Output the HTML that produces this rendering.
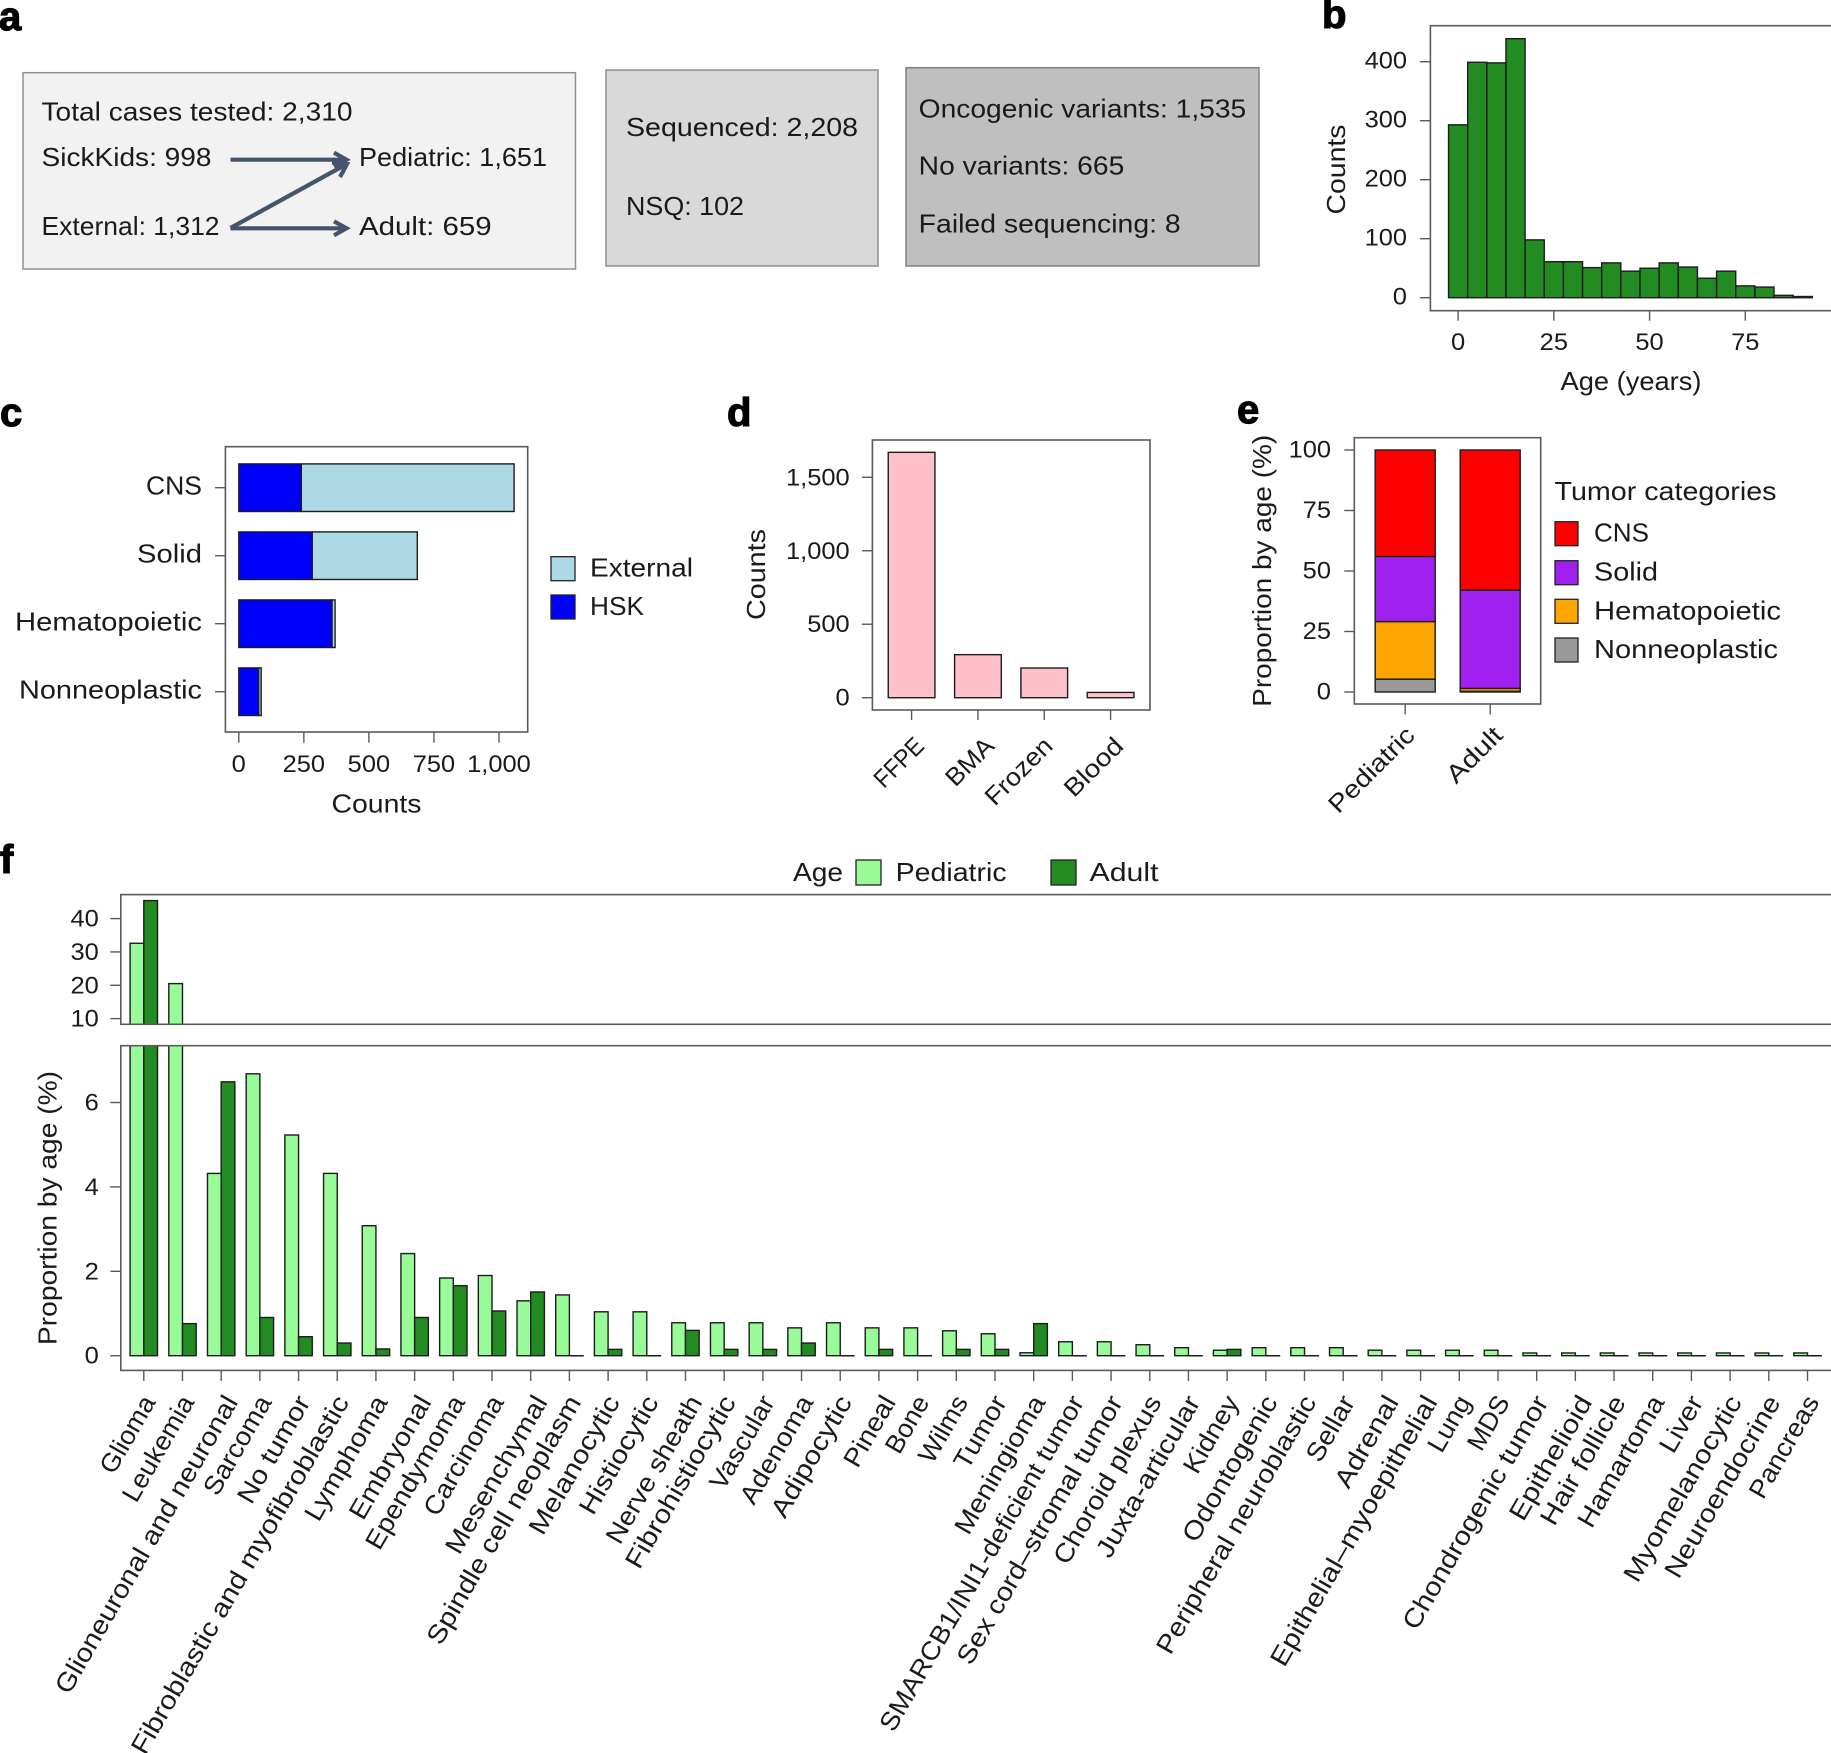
<!DOCTYPE html>
<html lang="en">
<head>
<meta charset="utf-8">
<title>Tumor cohort overview figure</title>
<style>
html,body{margin:0;padding:0;background:#fff;}
svg{display:block;}
text{font-family:"Liberation Sans",sans-serif;fill:#1a1a1a;}
.t{font-size:26px;}
.k{font-size:24px;}
.c{font-size:26px;}
.r{font-size:25px;}
.p{font-size:40px;font-weight:bold;fill:#000;stroke:#000;stroke-width:1.2px;}
.frame{fill:none;stroke:#5a5a5a;stroke-width:1.6;}
.arrow{fill:none;stroke:#44546a;stroke-width:4.2;}
</style>
</head>
<body>
<svg id="fig" xmlns="http://www.w3.org/2000/svg" width="1831" height="1753" viewBox="0 0 1831 1753">
  <rect x="0" y="0" width="1831" height="1753" fill="#fff"/>
  <defs>
    <clipPath id="clip-upper"><rect x="120.8" y="894.6" width="1710" height="129.7"/></clipPath>
    <clipPath id="clip-lower"><rect x="120.8" y="1045.7" width="1710" height="324.7"/></clipPath>
  </defs>

  <!-- panel letters -->
  <text class="p" x="-1" y="30">a</text>
  <text class="p" x="1322" y="28">b</text>
  <text class="p" x="0" y="426">c</text>
  <text class="p" x="727" y="426">d</text>
  <text class="p" x="1237" y="423">e</text>
  <text class="p" x="0" y="873">f</text>

  <!-- panel a -->
  <g>
    <rect x="23" y="72.7" width="552.5" height="196.3" fill="#f2f2f2" stroke="#8f8f8f" stroke-width="1.5"/>
    <rect x="606" y="70" width="272" height="196" fill="#d9d9d9" stroke="#8f8f8f" stroke-width="1.5"/>
    <rect x="906" y="67.7" width="353" height="198.3" fill="#bfbfbf" stroke="#808080" stroke-width="1.5"/>
    <text class="t" x="41.5" y="120.5" textLength="311" lengthAdjust="spacingAndGlyphs">Total cases tested: 2,310</text>
    <text class="t" x="41.5" y="166.2" textLength="170" lengthAdjust="spacingAndGlyphs">SickKids: 998</text>
    <text class="t" x="359" y="166.2" textLength="188" lengthAdjust="spacingAndGlyphs">Pediatric: 1,651</text>
    <text class="t" x="41.5" y="235" textLength="178" lengthAdjust="spacingAndGlyphs">External: 1,312</text>
    <text class="t" x="359" y="235" textLength="132.7" lengthAdjust="spacingAndGlyphs">Adult: 659</text>
    <text class="t" x="626" y="136" textLength="232" lengthAdjust="spacingAndGlyphs">Sequenced: 2,208</text>
    <text class="t" x="626" y="215" textLength="118" lengthAdjust="spacingAndGlyphs">NSQ: 102</text>
    <text class="t" x="918.7" y="117.3" textLength="327.5" lengthAdjust="spacingAndGlyphs">Oncogenic variants: 1,535</text>
    <text class="t" x="918.7" y="174.3" textLength="205.6" lengthAdjust="spacingAndGlyphs">No variants: 665</text>
    <text class="t" x="918.7" y="232.3" textLength="262" lengthAdjust="spacingAndGlyphs">Failed sequencing: 8</text>
    <path class="arrow" d="M230.5 159.7H345M334 152.7l12.5 7-12.5 7"/>
    <path class="arrow" d="M230.5 228.3H345M334 221.3l12.5 7-12.5 7"/>
    <path class="arrow" d="M230.5 228L345 165M332 162.5l15 1.5-7 13"/>
  </g>

  <!-- static axis titles and legends -->
  <text class="t" text-anchor="middle" transform="translate(1345 169.5) rotate(-90)" textLength="90" lengthAdjust="spacingAndGlyphs">Counts</text>
  <text class="t" text-anchor="middle" x="1631" y="390" textLength="141" lengthAdjust="spacingAndGlyphs">Age (years)</text>
  <text class="t" text-anchor="middle" x="376.5" y="812.7" textLength="90" lengthAdjust="spacingAndGlyphs">Counts</text>
  <rect x="551" y="556.7" width="24" height="24" fill="#add8e6" stroke="#222" stroke-width="1.3"/>
  <text class="t" x="590" y="576.7" textLength="103" lengthAdjust="spacingAndGlyphs">External</text>
  <rect x="551" y="595" width="24" height="24" fill="#0000ff" stroke="#222" stroke-width="1.3"/>
  <text class="t" x="590" y="615" textLength="54" lengthAdjust="spacingAndGlyphs">HSK</text>
  <text class="t" text-anchor="middle" transform="translate(765 574.5) rotate(-90)" textLength="91" lengthAdjust="spacingAndGlyphs">Counts</text>
  <text class="t" text-anchor="middle" transform="translate(1271 570.8) rotate(-90)" textLength="272" lengthAdjust="spacingAndGlyphs">Proportion by age (%)</text>
  <text class="t" x="1554.5" y="500" textLength="222" lengthAdjust="spacingAndGlyphs">Tumor categories</text>
  <rect x="1555" y="521.7" width="23" height="24" fill="#ff0000" stroke="#222" stroke-width="1.3"/>
  <text class="t" x="1594" y="541.7" textLength="55" lengthAdjust="spacingAndGlyphs">CNS</text>
  <rect x="1555" y="560.7" width="23" height="24" fill="#a020f0" stroke="#222" stroke-width="1.3"/>
  <text class="t" x="1594" y="580.5" textLength="64" lengthAdjust="spacingAndGlyphs">Solid</text>
  <rect x="1555" y="599.3" width="23" height="24" fill="#ffa500" stroke="#222" stroke-width="1.3"/>
  <text class="t" x="1594" y="619.5" textLength="187" lengthAdjust="spacingAndGlyphs">Hematopoietic</text>
  <rect x="1555" y="638" width="23" height="24" fill="#999999" stroke="#222" stroke-width="1.3"/>
  <text class="t" x="1594" y="658" textLength="184" lengthAdjust="spacingAndGlyphs">Nonneoplastic</text>
  <text class="t" x="793" y="881" textLength="50" lengthAdjust="spacingAndGlyphs">Age</text>
  <rect x="856" y="860" width="25" height="25" fill="#98fb98" stroke="#222" stroke-width="1.3"/>
  <text class="t" x="895.6" y="881" textLength="111" lengthAdjust="spacingAndGlyphs">Pediatric</text>
  <rect x="1051" y="860" width="25" height="25" fill="#228b22" stroke="#222" stroke-width="1.3"/>
  <text class="t" x="1089.5" y="881" textLength="69" lengthAdjust="spacingAndGlyphs">Adult</text>
  <text class="t" text-anchor="middle" transform="translate(56.5 1208) rotate(-90)" textLength="274" lengthAdjust="spacingAndGlyphs">Proportion by age (%)</text>

  <g id="charts"></g>
</svg>

<script>
// Panel b
const ageBinEdges = [-2.5,2.5,7.5,12.5,17.5,22.5,27.5,32.5,37.5,42.5,47.5,52.5,57.5,62.5,67.5,72.5,77.5,82.5,87.5,92.5];
const ageCounts = [293,399,398,439,98,61,61,51,59,45,50,59,52,33,45,20,18,4,2];
const ageXTicks = [0,25,50,75];
const ageYTicks = [0,100,200,300,400];

// Panel c
const sourceCategories = ["CNS","Solid","Hematopoietic","Nonneoplastic"];
const sourceHsk = [240,282,358,76];
const sourceExternal = [818,404,12,10];
const sourceXTicks = [0,250,500,750,1000];
const sourceXLabels = ["0","250","500","750","1,000"];

// Panel d
const sampleTypes = ["FFPE","BMA","Frozen","Blood"];
const sampleCounts = [1670,293,202,36];
const sampleYTicks = [0,500,1000,1500];
const sampleYLabels = ["0","500","1,000","1,500"];

// Panel e
const ageGroups = ["Pediatric","Adult"];
const propNonneoplastic = [5.3,0.3];
const propHematopoietic = [23.8,1.2];
const propSolid = [26.9,40.6];
const propCns = [44.0,57.9];
const propYTicks = [0,25,50,75,100];

// Panel f
const tumorTypes = ["Glioma","Leukemia","Glioneuronal and neuronal","Sarcoma","No tumor","Fibroblastic and myofibroblastic","Lymphoma","Embryonal","Ependymoma","Carcinoma","Mesenchymal","Spindle cell neoplasm","Melanocytic","Histiocytic","Nerve sheath","Fibrohistiocytic","Vascular","Adenoma","Adipocytic","Pineal","Bone","Wilms","Tumor","Meningioma","SMARCB1/INI1-deficient tumor","Sex cord–stromal tumor","Choroid plexus","Juxta-articular","Kidney","Odontogenic","Peripheral neuroblastic","Sellar","Adrenal","Epithelial–myoepithelial","Lung","MDS","Chondrogenic tumor","Epithelioid","Hair follicle","Hamartoma","Liver","Myomelanocytic","Neuroendocrine","Pancreas"];
const pediatricProp = [32.6,20.5,4.32,6.68,5.23,4.32,3.08,2.42,1.84,1.90,1.30,1.44,1.04,1.04,0.78,0.78,0.78,0.66,0.78,0.66,0.66,0.59,0.52,0.07,0.33,0.33,0.26,0.19,0.13,0.19,0.19,0.19,0.13,0.13,0.13,0.13,0.065,0.065,0.065,0.065,0.065,0.065,0.065,0.065];
const adultProp = [45.4,0.76,6.49,0.905,0.45,0.30,0.16,0.905,1.66,1.06,1.51,0,0.15,0,0.60,0.15,0.15,0.30,0,0.15,0,0.15,0.15,0.76,0,0,0,0,0.15,0,0,0,0,0,0,0,0,0,0,0,0,0,0,0];
const upperYTicks = [10,20,30,40];
const lowerYTicks = [0,2,4,6];

/* Typesetting table: rendered width of each label, so Liberation Sans fills the reference's wider face */
const labelFit = {
  "CNS":56,"Solid":65,"Hematopoietic":187,"Nonneoplastic":183,
  "FFPE":59,"BMA":57,"Frozen":84,"Blood":72,"Pediatric":110,"Adult":68,
  "Glioma":85,"Leukemia":117.6,"Glioneuronal and neuronal":339,"Sarcoma":110,"No tumor":119.5,
  "Fibroblastic and myofibroblastic":409,"Lymphoma":139.6,"Embryonal":138,"Ependymoma":172.6,"Carcinoma":133.8,
  "Mesenchymal":177.7,"Spindle cell neoplasm":282.3,"Melanocytic":155.4,"Histiocytic":132.2,"Nerve sheath":166,
  "Fibrohistiocytic":194.6,"Vascular":103.4,"Adenoma":120.3,"Adipocytic":135.7,"Pineal":77.6,"Bone":61.8,
  "Wilms":72.6,"Tumor":79.5,"Meningioma":155,"SMARCB1/INI1-deficient tumor":382.5,"Sex cord–stromal tumor":305.4,
  "Choroid plexus":189.6,"Juxta-articular":182,"Kidney":84.9,"Odontogenic":164,"Peripheral neuroblastic":293.2,
  "Sellar":71.4,"Adrenal":101.5,"Epithelial–myoepithelial":307.4,"Lung":60.3,"MDS":58.3,"Chondrogenic tumor":265,
  "Epithelioid":139.2,"Hair follicle":144.6,"Hamartoma":147.2,"Liver":61,"Myomelanocytic":210,"Neuroendocrine":205.4,"Pancreas":113.7
};

const NS = "http://www.w3.org/2000/svg";
const root = document.getElementById("charts");

function linear(d0, d1, r0, r1) {
  return function (v) { return r0 + (v - d0) * (r1 - r0) / (d1 - d0); };
}
function rect(parent, name, x, y, w, h, fill) {
  const el = document.createElementNS(NS, "rect");
  
  
  el.setAttribute("x", x);
  el.setAttribute("y", y);
  el.setAttribute("width", Math.max(w, 0.1));
  el.setAttribute("height", Math.max(h, 0.1));
  el.setAttribute("fill", fill);
  el.setAttribute("stroke", "#1c1c1c");
  el.setAttribute("stroke-width", "1.4");
  parent.appendChild(el);
  return el;
}
function frame(name, x0, y0, x1, y1) {
  const el = document.createElementNS(NS, "rect");
  
  
  el.setAttribute("class", "frame");
  el.setAttribute("x", x0);
  el.setAttribute("y", y0);
  el.setAttribute("width", x1 - x0);
  el.setAttribute("height", y1 - y0);
  root.appendChild(el);
}
function line(name, x1, y1, x2, y2) {
  const el = document.createElementNS(NS, "line");
  
  
  el.setAttribute("x1", x1);
  el.setAttribute("y1", y1);
  el.setAttribute("x2", x2);
  el.setAttribute("y2", y2);
  el.setAttribute("stroke", "#5a5a5a");
  el.setAttribute("stroke-width", "1.4");
  root.appendChild(el);
}
function label(name, cls, x, y, str, anchor, rot) {
  const el = document.createElementNS(NS, "text");
  
  
  el.setAttribute("class", cls);
  el.setAttribute("text-anchor", anchor);
  if (rot) {
    el.setAttribute("transform", "translate(" + x + " " + y + ") rotate(" + rot + ")");
  } else {
    el.setAttribute("x", x);
    el.setAttribute("y", y);
  }
  if (labelFit[str]) {
    el.setAttribute("textLength", labelFit[str]);
    el.setAttribute("lengthAdjust", "spacingAndGlyphs");
  }
  el.textContent = str;
  root.appendChild(el);
}
function yAxis(prefix, ticks, labels, scale, axisX, tickLen, labelX, labelDy) {
  ticks.forEach(function (t, i) {
    line(prefix + "-y-tick-" + t, axisX - tickLen, scale(t), axisX, scale(t));
    label(prefix + "-y-tick-label-" + t, "k", labelX, scale(t) + labelDy, String(labels[i]), "end");
  });
}
function group(name, clip) {
  const el = document.createElementNS(NS, "g");
  
  
  if (clip) { el.setAttribute("clip-path", "url(#" + clip + ")"); }
  root.appendChild(el);
  return el;
}

/* Panel b */
(function () {
  const x = linear(0, 75, 1458.1, 1745.3);
  const y = linear(0, 400, 297.7, 61.7);
  const g = group("age-histogram");
  ageCounts.forEach(function (c, i) {
    rect(g, "age-bar-" + i, x(ageBinEdges[i]), y(c), x(ageBinEdges[i + 1]) - x(ageBinEdges[i]), y(0) - y(c), "#228b22");
  });
  frame("b-plot-frame", 1430.4, 25.7, 1832, 310.7);
  yAxis("b", ageYTicks, ageYTicks, y, 1430.4, 10.5, 1407, 7);
  ageXTicks.forEach(function (t) {
    line("b-x-tick-" + t, x(t), 310.7, x(t), 320.7);
    label("b-x-tick-label-" + t, "k", x(t), 350, String(t), "middle");
  });
})();

/* Panel c */
(function () {
  const x = linear(0, 1000, 238.8, 499);
  const y = linear(0, 3, 487.7, 691.7);
  const barH = 47.6;
  const g = group("source-stacked-bars");
  sourceCategories.forEach(function (cat, i) {
    const yc = y(i) - barH / 2;
    rect(g, "external-bar-" + cat.toLowerCase(), x(sourceHsk[i]), yc, x(sourceHsk[i] + sourceExternal[i]) - x(sourceHsk[i]), barH, "#add8e6");
    rect(g, "hsk-bar-" + cat.toLowerCase(), x(0), yc, x(sourceHsk[i]) - x(0), barH, "#0000ff");
    line("c-y-tick-" + cat.toLowerCase(), 215, y(i), 225.4, y(i));
    label("c-y-label-" + cat.toLowerCase(), "t", 202, y(i) + 7, cat, "end");
  });
  frame("c-plot-frame", 225.4, 446.7, 527.7, 732);
  sourceXTicks.forEach(function (t, i) {
    line("c-x-tick-" + t, x(t), 732, x(t), 742.7);
    label("c-x-tick-label-" + t, "k", x(t), 772, sourceXLabels[i], "middle");
  });
})();

/* Panel d */
(function () {
  const x = linear(0, 3, 911.6, 1110.6);
  const y = linear(0, 1500, 697.7, 477.3);
  const barW = 46.7;
  const endShift = { "FFPE": 14, "BMA": 17.7, "Frozen": 10, "Blood": 14.3 };
  const g = group("sample-type-bars");
  sampleTypes.forEach(function (s, i) {
    rect(g, "sample-bar-" + s.toLowerCase(), x(i) - barW / 2, y(sampleCounts[i]), barW, y(0) - y(sampleCounts[i]), "#ffc0cb");
    line("d-x-tick-" + s.toLowerCase(), x(i), 710, x(i), 720);
    label("d-x-label-" + s.toLowerCase(), "r", x(i) + (endShift[s] === undefined ? 14 : endShift[s]), 747.5, s, "end", -45);
  });
  frame("d-plot-frame", 872.4, 440, 1150, 710);
  yAxis("d", sampleYTicks, sampleYLabels, y, 872.4, 10.5, 849.7, 8);
})();

/* Panel e */
(function () {
  const x = linear(0, 1, 1405.2, 1490.2);
  const y = linear(0, 100, 692, 450);
  const barW = 60;
  const endShift = { "Pediatric": 11, "Adult": 14 };
  const series = [
    { name: "nonneoplastic", values: propNonneoplastic, fill: "#999999" },
    { name: "hematopoietic", values: propHematopoietic, fill: "#ffa500" },
    { name: "solid", values: propSolid, fill: "#a020f0" },
    { name: "cns", values: propCns, fill: "#ff0000" }
  ];
  const g = group("tumor-category-stacks");
  ageGroups.forEach(function (a, i) {
    let base = 0;
    series.forEach(function (s) {
      const top = base + s.values[i];
      rect(g, a.toLowerCase() + "-" + s.name + "-segment", x(i) - barW / 2, y(top), barW, y(base) - y(top), s.fill);
      base = top;
    });
    line("e-x-tick-" + a.toLowerCase(), x(i), 704, x(i), 714.5);
    label("e-x-label-" + a.toLowerCase(), "r", x(i) + (endShift[a] === undefined ? 12 : endShift[a]), 736.7, a, "end", -45);
  });
  frame("e-plot-frame", 1354.3, 437.7, 1540.7, 704);
  yAxis("e", propYTicks, propYTicks, y, 1354.3, 10, 1331, 7.5);
})();

/* Panel f */
(function () {
  const x = linear(0, 43, 143.8, 1807.5);
  const yUp = linear(10, 40, 1018.6, 918.6);
  const yLow = linear(0, 6, 1355.7, 1102.5);
  const barW = 13.7;
  const upper = group("upper-proportion-bars", "clip-upper");
  const lower = group("lower-proportion-bars", "clip-lower");
  tumorTypes.forEach(function (tt, i) {
    const slug = tt.toLowerCase().replace(/[^a-z0-9]+/g, "-");
    const p = pediatricProp[i];
    const a = adultProp[i];
    if (yUp(p) < 1024.3) {
      rect(upper, "upper-pediatric-bar-" + slug, x(i) - barW, yUp(p), barW, 1030 - yUp(p), "#98fb98");
    }
    if (yUp(a) < 1024.3) {
      rect(upper, "upper-adult-bar-" + slug, x(i), yUp(a), barW, 1030 - yUp(a), "#228b22");
    }
    const pTop = Math.max(yLow(p), 1040);
    const aTop = Math.max(yLow(a), 1040);
    rect(lower, "pediatric-bar-" + slug, x(i) - barW, pTop, barW, yLow(0) - pTop, "#98fb98");
    rect(lower, "adult-bar-" + slug, x(i), aTop, barW, yLow(0) - aTop, "#228b22");
    line("f-x-tick-" + slug, x(i), 1370.4, x(i), 1381);
    label("f-x-label-" + slug, "c", x(i) + (/[ldh]$/.test(tt) ? 17.5 : 12.5), 1402, tt, "end", -60);
  });
  frame("f-upper-plot-frame", 120.8, 894.6, 1832, 1024.3);
  frame("f-lower-plot-frame", 120.8, 1045.7, 1832, 1370.4);
  yAxis("f-upper", upperYTicks, upperYTicks, yUp, 120.8, 10.5, 98.8, 8);
  yAxis("f-lower", lowerYTicks, lowerYTicks, yLow, 120.8, 10.5, 98.8, 8);
})();

/* Horizontal fit for labels without an explicit width (tick labels) */
const widthFactors = { t: 1.07, k: 1.06, c: 1.11, r: 1.03 };
document.querySelectorAll("#fig text").forEach(function (t) {
  const f = widthFactors[t.getAttribute("class")];
  if (f && !t.hasAttribute("textLength")) {
    t.setAttribute("textLength", (t.getComputedTextLength() * f).toFixed(1));
    t.setAttribute("lengthAdjust", "spacingAndGlyphs");
  }
});
</script>
</body>
</html>
